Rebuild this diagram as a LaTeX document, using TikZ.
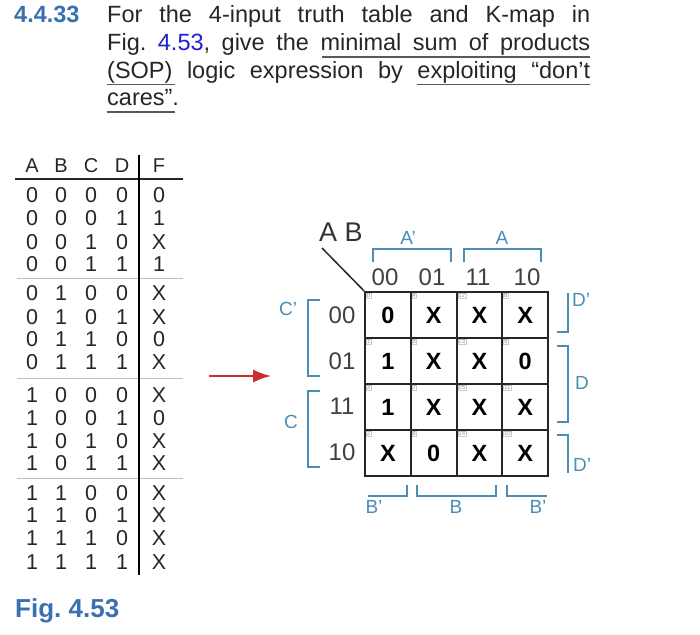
\documentclass[tikz,border=0pt]{standalone}
\usepackage{fontspec}
\usetikzlibrary{arrows.meta}
\setmainfont{Liberation Sans}
\definecolor{headblue}{RGB}{58,112,176}
\definecolor{mapblue}{RGB}{74,141,181}
\definecolor{linkblue}{RGB}{30,30,215}
\definecolor{arrowred}{RGB}{205,45,50}
\newcommand{\fullline}[1]{\hbox to 483pt{#1}}
\frenchspacing
\tikzset{
  textline/.style={anchor=base west, inner sep=0pt, font=\fontsize{23.5}{27.5}\selectfont, text=black!85},
  textrule/.style={draw=black!65, line width=1.6pt},
  bit/.style={font=\fontsize{21.5}{21.5}\selectfont, text=black!85, inner sep=0pt},
  mapbit/.style={font=\fontsize{23.5}{23.5}\selectfont\bfseries, inner sep=0pt},
  axisbit/.style={font=\fontsize{24}{24}\selectfont, text=black!75, inner sep=0pt},
  bluelabel/.style={font=\fontsize{19}{19}\selectfont, text=mapblue, inner sep=0pt},
  bluebrace/.style={draw=mapblue, line width=2pt},
  cellno/.style={font=\fontsize{6}{6}\selectfont, text=black!40, draw=black!20, line width=.4pt, inner sep=.6pt, anchor=north west}
}
\begin{document}
\begin{tikzpicture}[x=1pt,y=-1pt]
  \useasboundingbox (0,0) rectangle (700,634);

  % question text
  \node[textline, text=headblue, font=\fontsize{23.5}{27.5}\selectfont\bfseries] (number) at (14,23) {4.4.33};
  \node[textline] (line1) at (107,23) {\fullline{For the 4-input truth table and K-map in}};
  \node[textline] (line2) at (107,50.5) {\fullline{Fig. \textcolor{linkblue}{4.53}, give the minimal sum of products}};
  \node[textline] (line3) at (107,78) {\fullline{(SOP) logic expression by exploiting “don’t}};
  \node[textline] (line4) at (107,105.5) {cares”.};
  \draw[textrule] (322,57) -- (590,57);
  \draw[textrule] (107,84.5) -- (175,84.5);
  \draw[textrule] (417,84.5) -- (590,84.5);
  \draw[textrule] (107,112) -- (175,112);

  % truth table
  \foreach \name/\xpos in {A/32,B/61,C/91,D/122,F/159}
    \node[bit, font=\fontsize{20}{20}\selectfont] (head\name) at (\xpos,166) {\name};
  \foreach \ypos/\a/\b/\c/\d/\f in {
      195/0/0/0/0/0, 218/0/0/0/1/1, 242/0/0/1/0/X, 264/0/0/1/1/1,
      293/0/1/0/0/X, 317/0/1/0/1/X, 339/0/1/1/0/0, 362/0/1/1/1/X,
      395/1/0/0/0/X, 418/1/0/0/1/0, 441/1/0/1/0/X, 463/1/0/1/1/X,
      493/1/1/0/0/X, 515/1/1/0/1/X, 538/1/1/1/0/X, 562/1/1/1/1/X} {
    \node[bit] (a\ypos) at (32,\ypos) {\a};
    \node[bit] (b\ypos) at (61,\ypos) {\b};
    \node[bit] (c\ypos) at (91,\ypos) {\c};
    \node[bit] (d\ypos) at (122,\ypos) {\d};
    \node[bit] (f\ypos) at (159,\ypos) {\f};
  }
  \draw[line width=2pt, black!85] (15,179) -- (183,179);
  \foreach \ypos in {278,378,478}
    \draw[line width=1pt, black!25] (17,\ypos) -- (183,\ypos);
  \draw[line width=2pt] (139,155) -- (139,575);

  \node[anchor=west, inner sep=0pt, text=headblue, font=\fontsize{26}{26}\selectfont\bfseries] (caption) at (15,611) {Fig. 4.53};

  % arrow to the map
  \coordinate (arrowstart) at (209,376);
  \coordinate (arrowend) at (271,376);
  \draw[arrowred, line width=1.8pt, -{Latex[length=18pt,width=13pt]}] (arrowstart) -- (arrowend);

  % K-map
  \foreach \xpos/\col in {388/0,433.7/1,479.5/2,525.2/3}
    \foreach \ypos/\row in {315/0,361/1,407/2,453/3}
      \node[minimum width=45.7pt, minimum height=46pt, inner sep=0pt, draw=black!85, line width=2pt] (cell\row\col) at (\xpos,\ypos) {};
  \foreach \row/\col/\val/\no in {
      0/0/0/0, 0/1/X/4, 0/2/X/12, 0/3/X/8,
      1/0/1/1, 1/1/X/5, 1/2/X/13, 1/3/0/9,
      2/0/1/3, 2/1/X/7, 2/2/X/15, 2/3/X/11,
      3/0/X/2, 3/1/0/6, 3/2/X/14, 3/3/X/10} {
    \node[mapbit] (val\row\col) at (cell\row\col) {\val};
    \node[cellno] (no\row\col) at ([xshift=2pt,yshift=-2pt]cell\row\col.north west) {\no};
  }

  % axis labels of the map
  \foreach \txt/\xpos in {00/385,01/432,11/478,10/527}
    \node[axisbit] (top\txt) at (\xpos,277) {\txt};
  \foreach \txt/\ypos in {00/315,01/361,11/406,10/452}
    \node[axisbit] (left\txt) at (342,\ypos) {\txt};
  \node[inner sep=0pt, text=black!80, font=\fontsize{27}{27}\selectfont] (ab) at (341,232) {A B};
  \coordinate (slashstart) at (322,248);
  \draw[line width=1.5pt, black!85] (slashstart) -- (cell00.north west);

  % blue brackets
  \draw[bluebrace] (373,262) -- (373,249) -- (451,249) -- (451,262);
  \draw[bluebrace] (464,262) -- (464,249) -- (541,249) -- (541,262);
  \draw[bluebrace] (320,300) -- (308,300) -- (308,376) -- (320,376);
  \draw[bluebrace] (320,391) -- (308,391) -- (308,467) -- (320,467);
  \draw[bluebrace] (568,293) -- (568,332) -- (557,332);
  \draw[bluebrace] (557,346) -- (568,346) -- (568,422) -- (557,422);
  \draw[bluebrace] (557,435) -- (568,435) -- (568,473);
  \draw[bluebrace] (368,496) -- (407,496) -- (407,485);
  \draw[bluebrace] (417,485) -- (417,496) -- (496,496) -- (496,485);
  \draw[bluebrace] (507,485) -- (507,496) -- (547,496);

  \node[bluelabel] (la1) at (408,238) {A'};
  \node[bluelabel] (la2) at (502,238) {A};
  \node[bluelabel] (lc1) at (288,309) {C'};
  \node[bluelabel] (lc2) at (291,422) {C};
  \node[bluelabel] (ld1) at (581,300) {D'};
  \node[bluelabel] (ld2) at (582,383) {D};
  \node[bluelabel] (ld3) at (582,465) {D'};
  \node[bluelabel] (lb1) at (374,507) {B'};
  \node[bluelabel] (lb2) at (456,507) {B};
  \node[bluelabel] (lb3) at (538,507) {B'};
\end{tikzpicture}
\end{document}
